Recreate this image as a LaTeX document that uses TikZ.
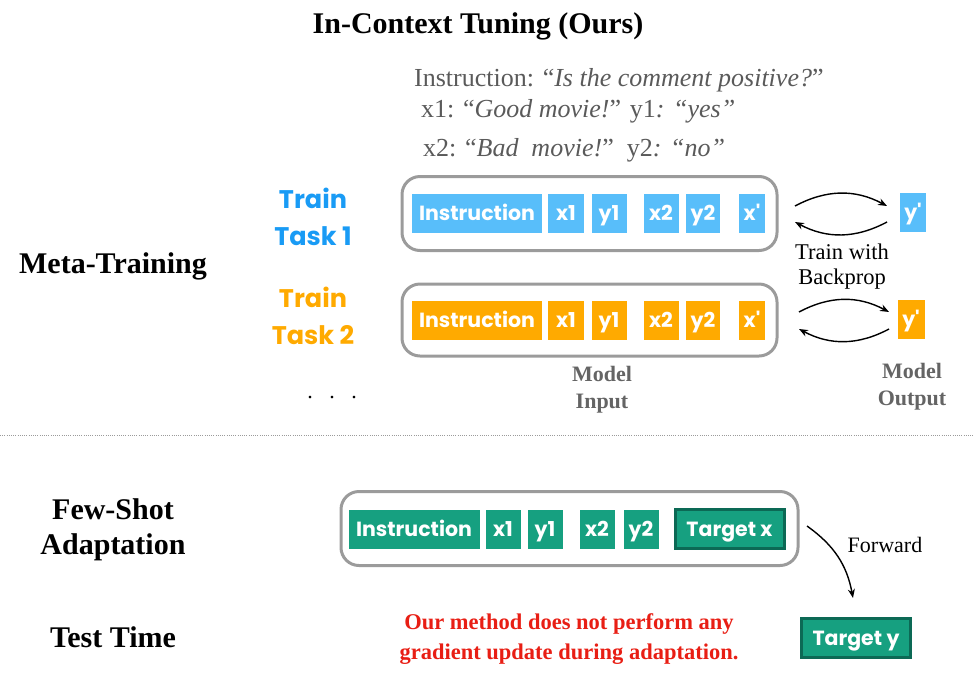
\documentclass[tikz,border=0pt]{standalone}
\usepackage{fontspec}
\setmainfont{Liberation Serif}
\newfontfamily\comicfont{Poppins}
\usetikzlibrary{arrows.meta}
\definecolor{tblue}{RGB}{88,190,250}
\definecolor{lblue}{RGB}{25,155,245}
\definecolor{torange}{RGB}{255,170,0}
\definecolor{tteal}{RGB}{22,160,128}
\definecolor{tdark}{RGB}{12,105,85}
\definecolor{tgray}{RGB}{90,90,90}
\definecolor{mgray}{RGB}{100,100,100}
\definecolor{boxgray}{RGB}{155,155,155}
\definecolor{tred}{RGB}{232,30,20}
\tikzset{
  tok/.style={inner sep=0pt, minimum height=39pt, text=white, text height=14.5pt, text depth=0pt, font=\comicfont\fontsize{20.5}{24}\selectfont\bfseries},
  tokB/.style={tok, fill=tblue},
  tokO/.style={tok, fill=torange},
  tokT/.style={tok, fill=tteal},
  tokD/.style={tok, fill=tteal, draw=tdark, line width=3pt},
  outer/.style={draw=boxgray, line width=3pt, rounded corners=18pt, inner sep=0pt},
  lab/.style={font=\fontsize{30}{35}\selectfont\bfseries, align=center},
  tasklab/.style={font=\comicfont\fontsize{25.5}{37}\selectfont\bfseries, align=center},
  graylab/.style={font=\fontsize{22}{27}\selectfont\bfseries, text=mgray, align=center},
  plain/.style={font=\fontsize{22.5}{25}\selectfont, align=center},
  extext/.style={anchor=west, text=tgray, font=\fontsize{26}{30}\selectfont, inner sep=0pt},
  arr/.style={-{Stealth[length=9pt,width=7pt]}, line width=1.4pt},
}
\begin{document}
\begin{tikzpicture}[x=1pt,y=-1pt]
\useasboundingbox (0,0) rectangle (974,681);
% title
\node[font=\fontsize{30}{34}\selectfont\bfseries] (title) at (478,26) {In-Context Tuning (Ours)};
% example texts
\node[extext] (ex1) at (414,80) {Instruction: ``\textit{Is the comment positive?}''};
\node[extext] (ex2) at (421,111) {x1: ``\textit{Good movie!}'' y1\textit{: ``yes''}};
\node[extext] (ex3) at (423,150) {x2: ``\textit{Bad\ \ movie!}''\ \ y2\textit{: ``no''}};
% left labels
\node[lab] (meta) at (113,266) {Meta-Training};
\node[lab] (fsa) at (113,530) {Few-Shot\\Adaptation};
\node[lab] (test) at (113,637) {Test Time};
\node[tasklab, text=lblue] (t1) at (313,217) {Train\\Task 1};
\node[tasklab, text=torange] (t2) at (313,316) {Train\\Task 2};
\node[font=\fontsize{22}{26}\selectfont] (dots) at (332,398) {.\ \ \ .\ \ \ .};
% row 1
\node[outer, minimum width=375pt, minimum height=74pt] (box1) at (589.5,213.5) {};
\node[tokB, minimum width=130pt] (i1) at (477,213.5) {Instruction};
\node[tokB, minimum width=36pt] (a1) at (566,213.5) {x1};
\node[tokB, minimum width=35pt] (b1) at (609,213.5) {y1};
\node[tokB, minimum width=35pt] (c1) at (661,213.5) {x2};
\node[tokB, minimum width=34pt] (d1) at (703,213.5) {y2};
\node[tokB, minimum width=26pt] (e1) at (752,213.5) {x'};
\node[tokB, minimum width=26pt] (o1) at (913,212.5) {y'};
\coordinate (p1) at (795,206);
\coordinate (q1) at (887,206);
\coordinate (r1) at (887,222);
\coordinate (s1) at (795,222);
\draw[arr] (p1) to[bend left=28] (q1);
\draw[arr] (r1) to[bend left=28] (s1);
\node[plain] (twb) at (842,267) {Train with\\Backprop};
% row 2
\node[outer, minimum width=375pt, minimum height=72pt] (box2) at (589.5,320) {};
\node[tokO, minimum width=130pt] (i2) at (477,320) {Instruction};
\node[tokO, minimum width=36pt] (a2) at (566,320) {x1};
\node[tokO, minimum width=35pt] (b2) at (609,320) {y1};
\node[tokO, minimum width=35pt] (c2) at (661,320) {x2};
\node[tokO, minimum width=34pt] (d2) at (703,320) {y2};
\node[tokO, minimum width=26pt] (e2) at (752,320) {x'};
\node[tokO, minimum width=27pt] (o2) at (911,319) {y'};
\coordinate (p2) at (799,312);
\coordinate (q2) at (889,312);
\coordinate (r2) at (889,329);
\coordinate (s2) at (799,329);
\draw[arr] (p2) to[bend left=28] (q2);
\draw[arr] (r2) to[bend left=28] (s2);
\node[graylab] (mi) at (602,390) {Model\\Input};
\node[graylab] (mo) at (912,387) {Model\\Output};
% separator
\coordinate (sepl) at (0,435);
\coordinate (sepr) at (974,435);
\draw[boxgray, line width=0.8pt, dash pattern=on 1pt off 1.2pt] (sepl) -- (sepr);
% row 3
\node[outer, minimum width=457pt, minimum height=74pt] (box3) at (569.5,528.5) {};
\node[tokT, minimum width=131pt] (i3) at (414,529) {Instruction};
\node[tokT, minimum width=35pt] (a3) at (503,529) {x1};
\node[tokT, minimum width=35pt] (b3) at (545,529) {y1};
\node[tokT, minimum width=35pt] (c3) at (597,529) {x2};
\node[tokT, minimum width=35pt] (d3) at (641,529) {y2};
\node[tokD, minimum width=109pt, minimum height=39pt] (tx) at (729.5,529) {Target x};
\node[tokD, minimum width=109pt, minimum height=39pt] (ty) at (856,638) {Target y};
\coordinate (fw1) at (807,526);
\coordinate (fw2) at (853,598);
\draw[arr] (fw1) to[bend left=22] (fw2);
\node[font=\fontsize{22}{26}\selectfont] (fwd) at (885,545) {Forward};
\node[font=\fontsize{22.5}{30}\selectfont\bfseries, text=tred, align=center] (note) at (569,639) {Our method does not perform any\\gradient update during adaptation.};
\end{tikzpicture}
\end{document}
